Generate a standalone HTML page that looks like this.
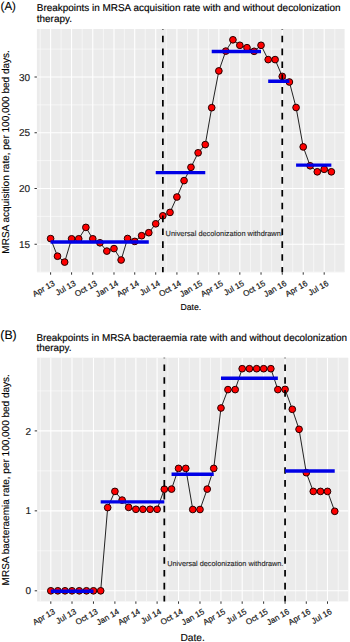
<!DOCTYPE html>
<html><head><meta charset="utf-8"><style>
html,body{margin:0;padding:0;background:#fff;width:350px;height:642px;overflow:hidden}
svg{display:block} text{text-rendering:geometricPrecision;font-family:"Liberation Sans",sans-serif}
.ann{fill:#222;stroke:#222;stroke-width:0.1}
.yt{fill:#1a1a1a;stroke:#1a1a1a;stroke-width:0.15}
.xt{fill:#1a1a1a;stroke:#1a1a1a;stroke-width:0.2}
.tag{fill:#000;stroke:#000;stroke-width:0.1}
.ti{fill:#000;stroke:#000;stroke-width:0.15}
.at{fill:#000;stroke:#000;stroke-width:0.12}
</style></head><body>
<svg width="350" height="642" viewBox="0 0 350 642">
<rect width="350" height="642" fill="#fff"/>
<clipPath id="ca"><rect x="36.9" y="29.0" width="307.70000000000005" height="243.3"/></clipPath>
<rect x="36.9" y="29.0" width="307.70000000000005" height="243.3" fill="#EBEBEB"/>
<g clip-path="url(#ca)">
<line x1="36.9" x2="344.6" y1="272.12" y2="272.12" stroke="#fff" stroke-width="0.55"/>
<line x1="36.9" x2="344.6" y1="216.38" y2="216.38" stroke="#fff" stroke-width="0.55"/>
<line x1="36.9" x2="344.6" y1="160.62" y2="160.62" stroke="#fff" stroke-width="0.55"/>
<line x1="36.9" x2="344.6" y1="104.88" y2="104.88" stroke="#fff" stroke-width="0.55"/>
<line x1="36.9" x2="344.6" y1="49.12" y2="49.12" stroke="#fff" stroke-width="0.55"/>
<line x1="40.23" x2="40.23" y1="29.0" y2="272.3" stroke="#fff" stroke-width="0.55"/>
<line x1="61.09" x2="61.09" y1="29.0" y2="272.3" stroke="#fff" stroke-width="0.55"/>
<line x1="82.18" x2="82.18" y1="29.0" y2="272.3" stroke="#fff" stroke-width="0.55"/>
<line x1="103.38" x2="103.38" y1="29.0" y2="272.3" stroke="#fff" stroke-width="0.55"/>
<line x1="124.36" x2="124.36" y1="29.0" y2="272.3" stroke="#fff" stroke-width="0.55"/>
<line x1="145.22" x2="145.22" y1="29.0" y2="272.3" stroke="#fff" stroke-width="0.55"/>
<line x1="166.31" x2="166.31" y1="29.0" y2="272.3" stroke="#fff" stroke-width="0.55"/>
<line x1="187.52" x2="187.52" y1="29.0" y2="272.3" stroke="#fff" stroke-width="0.55"/>
<line x1="208.49" x2="208.49" y1="29.0" y2="272.3" stroke="#fff" stroke-width="0.55"/>
<line x1="229.35" x2="229.35" y1="29.0" y2="272.3" stroke="#fff" stroke-width="0.55"/>
<line x1="250.44" x2="250.44" y1="29.0" y2="272.3" stroke="#fff" stroke-width="0.55"/>
<line x1="271.65" x2="271.65" y1="29.0" y2="272.3" stroke="#fff" stroke-width="0.55"/>
<line x1="292.74" x2="292.74" y1="29.0" y2="272.3" stroke="#fff" stroke-width="0.55"/>
<line x1="313.71" x2="313.71" y1="29.0" y2="272.3" stroke="#fff" stroke-width="0.55"/>
<line x1="334.80" x2="334.80" y1="29.0" y2="272.3" stroke="#fff" stroke-width="0.55"/>
<line x1="36.9" x2="344.6" y1="244.25" y2="244.25" stroke="#fff" stroke-width="1.1"/>
<line x1="36.9" x2="344.6" y1="188.50" y2="188.50" stroke="#fff" stroke-width="1.1"/>
<line x1="36.9" x2="344.6" y1="132.75" y2="132.75" stroke="#fff" stroke-width="1.1"/>
<line x1="36.9" x2="344.6" y1="77.00" y2="77.00" stroke="#fff" stroke-width="1.1"/>
<line x1="50.60" x2="50.60" y1="29.0" y2="272.3" stroke="#fff" stroke-width="1.1"/>
<line x1="71.58" x2="71.58" y1="29.0" y2="272.3" stroke="#fff" stroke-width="1.1"/>
<line x1="92.78" x2="92.78" y1="29.0" y2="272.3" stroke="#fff" stroke-width="1.1"/>
<line x1="113.99" x2="113.99" y1="29.0" y2="272.3" stroke="#fff" stroke-width="1.1"/>
<line x1="134.73" x2="134.73" y1="29.0" y2="272.3" stroke="#fff" stroke-width="1.1"/>
<line x1="155.71" x2="155.71" y1="29.0" y2="272.3" stroke="#fff" stroke-width="1.1"/>
<line x1="176.91" x2="176.91" y1="29.0" y2="272.3" stroke="#fff" stroke-width="1.1"/>
<line x1="198.12" x2="198.12" y1="29.0" y2="272.3" stroke="#fff" stroke-width="1.1"/>
<line x1="218.86" x2="218.86" y1="29.0" y2="272.3" stroke="#fff" stroke-width="1.1"/>
<line x1="239.84" x2="239.84" y1="29.0" y2="272.3" stroke="#fff" stroke-width="1.1"/>
<line x1="261.04" x2="261.04" y1="29.0" y2="272.3" stroke="#fff" stroke-width="1.1"/>
<line x1="282.25" x2="282.25" y1="29.0" y2="272.3" stroke="#fff" stroke-width="1.1"/>
<line x1="303.22" x2="303.22" y1="29.0" y2="272.3" stroke="#fff" stroke-width="1.1"/>
<line x1="324.20" x2="324.20" y1="29.0" y2="272.3" stroke="#fff" stroke-width="1.1"/>
<text x="165.6" y="236.0" class="ann" font-size="7.38">Universal decolonization withdrawn.</text>
<polyline points="50.60,238.60 57.51,256.20 64.66,262.10 71.58,238.80 78.72,238.80 85.87,227.40 92.78,238.80 99.93,242.80 106.84,251.10 113.99,248.60 121.13,260.00 127.59,238.50 134.73,241.40 141.65,235.70 148.79,232.70 155.71,223.80 162.85,215.80 170.00,212.40 176.91,197.00 184.06,180.60 190.97,167.30 198.12,152.80 205.26,144.60 211.72,107.70 218.86,70.90 225.78,51.10 232.92,39.80 239.84,45.30 246.98,47.70 254.13,51.30 261.04,45.30 268.19,59.60 275.10,59.60 282.25,76.40 289.39,82.00 296.08,107.50 303.22,146.90 310.14,165.80 317.29,171.80 324.20,169.30 331.35,171.80" fill="none" stroke="#222" stroke-width="1.0"/>
<circle cx="50.60" cy="238.60" r="3.35" fill="#f00" stroke="#200" stroke-width="1.0"/>
<circle cx="57.51" cy="256.20" r="3.35" fill="#f00" stroke="#200" stroke-width="1.0"/>
<circle cx="64.66" cy="262.10" r="3.35" fill="#f00" stroke="#200" stroke-width="1.0"/>
<circle cx="71.58" cy="238.80" r="3.35" fill="#f00" stroke="#200" stroke-width="1.0"/>
<circle cx="78.72" cy="238.80" r="3.35" fill="#f00" stroke="#200" stroke-width="1.0"/>
<circle cx="85.87" cy="227.40" r="3.35" fill="#f00" stroke="#200" stroke-width="1.0"/>
<circle cx="92.78" cy="238.80" r="3.35" fill="#f00" stroke="#200" stroke-width="1.0"/>
<circle cx="99.93" cy="242.80" r="3.35" fill="#f00" stroke="#200" stroke-width="1.0"/>
<circle cx="106.84" cy="251.10" r="3.35" fill="#f00" stroke="#200" stroke-width="1.0"/>
<circle cx="113.99" cy="248.60" r="3.35" fill="#f00" stroke="#200" stroke-width="1.0"/>
<circle cx="121.13" cy="260.00" r="3.35" fill="#f00" stroke="#200" stroke-width="1.0"/>
<circle cx="127.59" cy="238.50" r="3.35" fill="#f00" stroke="#200" stroke-width="1.0"/>
<circle cx="134.73" cy="241.40" r="3.35" fill="#f00" stroke="#200" stroke-width="1.0"/>
<circle cx="141.65" cy="235.70" r="3.35" fill="#f00" stroke="#200" stroke-width="1.0"/>
<circle cx="148.79" cy="232.70" r="3.35" fill="#f00" stroke="#200" stroke-width="1.0"/>
<circle cx="155.71" cy="223.80" r="3.35" fill="#f00" stroke="#200" stroke-width="1.0"/>
<circle cx="162.85" cy="215.80" r="3.35" fill="#f00" stroke="#200" stroke-width="1.0"/>
<circle cx="170.00" cy="212.40" r="3.35" fill="#f00" stroke="#200" stroke-width="1.0"/>
<circle cx="176.91" cy="197.00" r="3.35" fill="#f00" stroke="#200" stroke-width="1.0"/>
<circle cx="184.06" cy="180.60" r="3.35" fill="#f00" stroke="#200" stroke-width="1.0"/>
<circle cx="190.97" cy="167.30" r="3.35" fill="#f00" stroke="#200" stroke-width="1.0"/>
<circle cx="198.12" cy="152.80" r="3.35" fill="#f00" stroke="#200" stroke-width="1.0"/>
<circle cx="205.26" cy="144.60" r="3.35" fill="#f00" stroke="#200" stroke-width="1.0"/>
<circle cx="211.72" cy="107.70" r="3.35" fill="#f00" stroke="#200" stroke-width="1.0"/>
<circle cx="218.86" cy="70.90" r="3.35" fill="#f00" stroke="#200" stroke-width="1.0"/>
<circle cx="225.78" cy="51.10" r="3.35" fill="#f00" stroke="#200" stroke-width="1.0"/>
<circle cx="232.92" cy="39.80" r="3.35" fill="#f00" stroke="#200" stroke-width="1.0"/>
<circle cx="239.84" cy="45.30" r="3.35" fill="#f00" stroke="#200" stroke-width="1.0"/>
<circle cx="246.98" cy="47.70" r="3.35" fill="#f00" stroke="#200" stroke-width="1.0"/>
<circle cx="254.13" cy="51.30" r="3.35" fill="#f00" stroke="#200" stroke-width="1.0"/>
<circle cx="261.04" cy="45.30" r="3.35" fill="#f00" stroke="#200" stroke-width="1.0"/>
<circle cx="268.19" cy="59.60" r="3.35" fill="#f00" stroke="#200" stroke-width="1.0"/>
<circle cx="275.10" cy="59.60" r="3.35" fill="#f00" stroke="#200" stroke-width="1.0"/>
<circle cx="282.25" cy="76.40" r="3.35" fill="#f00" stroke="#200" stroke-width="1.0"/>
<circle cx="289.39" cy="82.00" r="3.35" fill="#f00" stroke="#200" stroke-width="1.0"/>
<circle cx="296.08" cy="107.50" r="3.35" fill="#f00" stroke="#200" stroke-width="1.0"/>
<circle cx="303.22" cy="146.90" r="3.35" fill="#f00" stroke="#200" stroke-width="1.0"/>
<circle cx="310.14" cy="165.80" r="3.35" fill="#f00" stroke="#200" stroke-width="1.0"/>
<circle cx="317.29" cy="171.80" r="3.35" fill="#f00" stroke="#200" stroke-width="1.0"/>
<circle cx="324.20" cy="169.30" r="3.35" fill="#f00" stroke="#200" stroke-width="1.0"/>
<circle cx="331.35" cy="171.80" r="3.35" fill="#f00" stroke="#200" stroke-width="1.0"/>
<line x1="162.85" x2="162.85" y1="273.6" y2="19.0" stroke="#000" stroke-width="1.75" stroke-dasharray="6.6 6.25"/>
<line x1="282.25" x2="282.25" y1="273.6" y2="19.0" stroke="#000" stroke-width="1.75" stroke-dasharray="6.6 6.25"/>
<line x1="50.60" x2="148.79" y1="242.0" y2="242.0" stroke="#0000E6" stroke-width="3.4"/>
<line x1="155.71" x2="205.26" y1="172.6" y2="172.6" stroke="#0000E6" stroke-width="3.4"/>
<line x1="211.72" x2="261.04" y1="51.5" y2="51.5" stroke="#0000E6" stroke-width="3.4"/>
<line x1="268.19" x2="289.39" y1="81.2" y2="81.2" stroke="#0000E6" stroke-width="3.4"/>
<line x1="296.08" x2="331.35" y1="165.1" y2="165.1" stroke="#0000E6" stroke-width="3.4"/>
</g>
<line x1="34.5" x2="36.9" y1="244.25" y2="244.25" stroke="#333" stroke-width="1"/>
<text x="30.2" y="247.85" text-anchor="end" class="yt" font-size="10">15</text>
<line x1="34.5" x2="36.9" y1="188.50" y2="188.50" stroke="#333" stroke-width="1"/>
<text x="30.2" y="192.10" text-anchor="end" class="yt" font-size="10">20</text>
<line x1="34.5" x2="36.9" y1="132.75" y2="132.75" stroke="#333" stroke-width="1"/>
<text x="30.2" y="136.35" text-anchor="end" class="yt" font-size="10">25</text>
<line x1="34.5" x2="36.9" y1="77.00" y2="77.00" stroke="#333" stroke-width="1"/>
<text x="30.2" y="80.60" text-anchor="end" class="yt" font-size="10">30</text>
<line x1="50.60" x2="50.60" y1="272.3" y2="274.7" stroke="#333" stroke-width="1"/>
<text transform="translate(55.50,284.90) rotate(-30)" text-anchor="end" class="xt" font-size="8.2">Apr 13</text>
<line x1="71.58" x2="71.58" y1="272.3" y2="274.7" stroke="#333" stroke-width="1"/>
<text transform="translate(76.48,284.90) rotate(-30)" text-anchor="end" class="xt" font-size="8.2">Jul 13</text>
<line x1="92.78" x2="92.78" y1="272.3" y2="274.7" stroke="#333" stroke-width="1"/>
<text transform="translate(97.68,284.90) rotate(-30)" text-anchor="end" class="xt" font-size="8.2">Oct 13</text>
<line x1="113.99" x2="113.99" y1="272.3" y2="274.7" stroke="#333" stroke-width="1"/>
<text transform="translate(118.89,284.90) rotate(-30)" text-anchor="end" class="xt" font-size="8.2">Jan 14</text>
<line x1="134.73" x2="134.73" y1="272.3" y2="274.7" stroke="#333" stroke-width="1"/>
<text transform="translate(139.63,284.90) rotate(-30)" text-anchor="end" class="xt" font-size="8.2">Apr 14</text>
<line x1="155.71" x2="155.71" y1="272.3" y2="274.7" stroke="#333" stroke-width="1"/>
<text transform="translate(160.61,284.90) rotate(-30)" text-anchor="end" class="xt" font-size="8.2">Jul 14</text>
<line x1="176.91" x2="176.91" y1="272.3" y2="274.7" stroke="#333" stroke-width="1"/>
<text transform="translate(181.81,284.90) rotate(-30)" text-anchor="end" class="xt" font-size="8.2">Oct 14</text>
<line x1="198.12" x2="198.12" y1="272.3" y2="274.7" stroke="#333" stroke-width="1"/>
<text transform="translate(203.02,284.90) rotate(-30)" text-anchor="end" class="xt" font-size="8.2">Jan 15</text>
<line x1="218.86" x2="218.86" y1="272.3" y2="274.7" stroke="#333" stroke-width="1"/>
<text transform="translate(223.76,284.90) rotate(-30)" text-anchor="end" class="xt" font-size="8.2">Apr 15</text>
<line x1="239.84" x2="239.84" y1="272.3" y2="274.7" stroke="#333" stroke-width="1"/>
<text transform="translate(244.74,284.90) rotate(-30)" text-anchor="end" class="xt" font-size="8.2">Jul 15</text>
<line x1="261.04" x2="261.04" y1="272.3" y2="274.7" stroke="#333" stroke-width="1"/>
<text transform="translate(265.94,284.90) rotate(-30)" text-anchor="end" class="xt" font-size="8.2">Oct 15</text>
<line x1="282.25" x2="282.25" y1="272.3" y2="274.7" stroke="#333" stroke-width="1"/>
<text transform="translate(287.15,284.90) rotate(-30)" text-anchor="end" class="xt" font-size="8.2">Jan 16</text>
<line x1="303.22" x2="303.22" y1="272.3" y2="274.7" stroke="#333" stroke-width="1"/>
<text transform="translate(308.12,284.90) rotate(-30)" text-anchor="end" class="xt" font-size="8.2">Apr 16</text>
<line x1="324.20" x2="324.20" y1="272.3" y2="274.7" stroke="#333" stroke-width="1"/>
<text transform="translate(329.10,284.90) rotate(-30)" text-anchor="end" class="xt" font-size="8.2">Jul 16</text>
<text x="0.6" y="9.6" class="tag" font-size="11.5">(A)</text>
<text x="36.8" y="10.7" class="ti" font-size="9.95">Breakpoints in MRSA acquisition rate with and without decolonization</text>
<text x="36.8" y="21.8" class="ti" font-size="9.95">therapy.</text>
<text transform="translate(8.9,151.9) rotate(-90)" text-anchor="middle" class="at" font-size="10">MRSA acquisition rate, per 100,000 bed days.</text>
<text x="180.5" y="310.0" class="at" font-size="8.7">Date.</text>
<clipPath id="cb"><rect x="37.1" y="357.7" width="311.2" height="243.7"/></clipPath>
<rect x="37.1" y="357.7" width="311.2" height="243.7" fill="#EBEBEB"/>
<g clip-path="url(#cb)">
<line x1="37.1" x2="348.3" y1="550.82" y2="550.82" stroke="#fff" stroke-width="0.55"/>
<line x1="37.1" x2="348.3" y1="470.87" y2="470.87" stroke="#fff" stroke-width="0.55"/>
<line x1="37.1" x2="348.3" y1="390.92" y2="390.92" stroke="#fff" stroke-width="0.55"/>
<line x1="40.31" x2="40.31" y1="357.7" y2="601.4" stroke="#fff" stroke-width="0.55"/>
<line x1="61.41" x2="61.41" y1="357.7" y2="601.4" stroke="#fff" stroke-width="0.55"/>
<line x1="82.74" x2="82.74" y1="357.7" y2="601.4" stroke="#fff" stroke-width="0.55"/>
<line x1="104.18" x2="104.18" y1="357.7" y2="601.4" stroke="#fff" stroke-width="0.55"/>
<line x1="125.39" x2="125.39" y1="357.7" y2="601.4" stroke="#fff" stroke-width="0.55"/>
<line x1="146.49" x2="146.49" y1="357.7" y2="601.4" stroke="#fff" stroke-width="0.55"/>
<line x1="167.82" x2="167.82" y1="357.7" y2="601.4" stroke="#fff" stroke-width="0.55"/>
<line x1="189.27" x2="189.27" y1="357.7" y2="601.4" stroke="#fff" stroke-width="0.55"/>
<line x1="210.48" x2="210.48" y1="357.7" y2="601.4" stroke="#fff" stroke-width="0.55"/>
<line x1="231.58" x2="231.58" y1="357.7" y2="601.4" stroke="#fff" stroke-width="0.55"/>
<line x1="252.91" x2="252.91" y1="357.7" y2="601.4" stroke="#fff" stroke-width="0.55"/>
<line x1="274.35" x2="274.35" y1="357.7" y2="601.4" stroke="#fff" stroke-width="0.55"/>
<line x1="295.68" x2="295.68" y1="357.7" y2="601.4" stroke="#fff" stroke-width="0.55"/>
<line x1="316.89" x2="316.89" y1="357.7" y2="601.4" stroke="#fff" stroke-width="0.55"/>
<line x1="338.22" x2="338.22" y1="357.7" y2="601.4" stroke="#fff" stroke-width="0.55"/>
<line x1="37.1" x2="348.3" y1="590.80" y2="590.80" stroke="#fff" stroke-width="1.1"/>
<line x1="37.1" x2="348.3" y1="510.85" y2="510.85" stroke="#fff" stroke-width="1.1"/>
<line x1="37.1" x2="348.3" y1="430.90" y2="430.90" stroke="#fff" stroke-width="1.1"/>
<line x1="50.80" x2="50.80" y1="357.7" y2="601.4" stroke="#fff" stroke-width="1.1"/>
<line x1="72.01" x2="72.01" y1="357.7" y2="601.4" stroke="#fff" stroke-width="1.1"/>
<line x1="93.46" x2="93.46" y1="357.7" y2="601.4" stroke="#fff" stroke-width="1.1"/>
<line x1="114.90" x2="114.90" y1="357.7" y2="601.4" stroke="#fff" stroke-width="1.1"/>
<line x1="135.88" x2="135.88" y1="357.7" y2="601.4" stroke="#fff" stroke-width="1.1"/>
<line x1="157.10" x2="157.10" y1="357.7" y2="601.4" stroke="#fff" stroke-width="1.1"/>
<line x1="178.54" x2="178.54" y1="357.7" y2="601.4" stroke="#fff" stroke-width="1.1"/>
<line x1="199.99" x2="199.99" y1="357.7" y2="601.4" stroke="#fff" stroke-width="1.1"/>
<line x1="220.97" x2="220.97" y1="357.7" y2="601.4" stroke="#fff" stroke-width="1.1"/>
<line x1="242.18" x2="242.18" y1="357.7" y2="601.4" stroke="#fff" stroke-width="1.1"/>
<line x1="263.63" x2="263.63" y1="357.7" y2="601.4" stroke="#fff" stroke-width="1.1"/>
<line x1="285.07" x2="285.07" y1="357.7" y2="601.4" stroke="#fff" stroke-width="1.1"/>
<line x1="306.29" x2="306.29" y1="357.7" y2="601.4" stroke="#fff" stroke-width="1.1"/>
<line x1="327.50" x2="327.50" y1="357.7" y2="601.4" stroke="#fff" stroke-width="1.1"/>
<text x="167.3" y="566.0" class="ann" font-size="7.3">Universal decolonization withdrawn.</text>
<polyline points="50.80,590.80 57.79,590.80 65.02,590.80 72.01,590.80 79.24,590.80 86.47,590.80 93.46,590.80 100.69,590.80 107.68,507.60 114.90,491.40 122.13,500.10 128.66,507.40 135.88,509.30 142.88,509.30 150.10,509.30 157.10,509.30 164.32,489.20 171.55,489.10 178.54,468.40 185.77,468.40 192.76,509.50 199.99,509.50 207.22,489.10 213.74,468.40 220.97,408.00 227.96,389.60 235.19,389.60 242.18,368.70 249.41,368.70 256.63,368.70 263.63,368.70 270.85,368.70 277.85,389.60 285.07,389.40 292.30,409.30 299.06,429.30 306.29,472.70 313.28,491.40 320.51,491.40 327.50,491.40 334.73,511.30" fill="none" stroke="#222" stroke-width="1.0"/>
<circle cx="50.80" cy="590.80" r="3.35" fill="#f00" stroke="#200" stroke-width="1.0"/>
<circle cx="57.79" cy="590.80" r="3.35" fill="#f00" stroke="#200" stroke-width="1.0"/>
<circle cx="65.02" cy="590.80" r="3.35" fill="#f00" stroke="#200" stroke-width="1.0"/>
<circle cx="72.01" cy="590.80" r="3.35" fill="#f00" stroke="#200" stroke-width="1.0"/>
<circle cx="79.24" cy="590.80" r="3.35" fill="#f00" stroke="#200" stroke-width="1.0"/>
<circle cx="86.47" cy="590.80" r="3.35" fill="#f00" stroke="#200" stroke-width="1.0"/>
<circle cx="93.46" cy="590.80" r="3.35" fill="#f00" stroke="#200" stroke-width="1.0"/>
<circle cx="100.69" cy="590.80" r="3.35" fill="#f00" stroke="#200" stroke-width="1.0"/>
<circle cx="107.68" cy="507.60" r="3.35" fill="#f00" stroke="#200" stroke-width="1.0"/>
<circle cx="114.90" cy="491.40" r="3.35" fill="#f00" stroke="#200" stroke-width="1.0"/>
<circle cx="122.13" cy="500.10" r="3.35" fill="#f00" stroke="#200" stroke-width="1.0"/>
<circle cx="128.66" cy="507.40" r="3.35" fill="#f00" stroke="#200" stroke-width="1.0"/>
<circle cx="135.88" cy="509.30" r="3.35" fill="#f00" stroke="#200" stroke-width="1.0"/>
<circle cx="142.88" cy="509.30" r="3.35" fill="#f00" stroke="#200" stroke-width="1.0"/>
<circle cx="150.10" cy="509.30" r="3.35" fill="#f00" stroke="#200" stroke-width="1.0"/>
<circle cx="157.10" cy="509.30" r="3.35" fill="#f00" stroke="#200" stroke-width="1.0"/>
<circle cx="164.32" cy="489.20" r="3.35" fill="#f00" stroke="#200" stroke-width="1.0"/>
<circle cx="171.55" cy="489.10" r="3.35" fill="#f00" stroke="#200" stroke-width="1.0"/>
<circle cx="178.54" cy="468.40" r="3.35" fill="#f00" stroke="#200" stroke-width="1.0"/>
<circle cx="185.77" cy="468.40" r="3.35" fill="#f00" stroke="#200" stroke-width="1.0"/>
<circle cx="192.76" cy="509.50" r="3.35" fill="#f00" stroke="#200" stroke-width="1.0"/>
<circle cx="199.99" cy="509.50" r="3.35" fill="#f00" stroke="#200" stroke-width="1.0"/>
<circle cx="207.22" cy="489.10" r="3.35" fill="#f00" stroke="#200" stroke-width="1.0"/>
<circle cx="213.74" cy="468.40" r="3.35" fill="#f00" stroke="#200" stroke-width="1.0"/>
<circle cx="220.97" cy="408.00" r="3.35" fill="#f00" stroke="#200" stroke-width="1.0"/>
<circle cx="227.96" cy="389.60" r="3.35" fill="#f00" stroke="#200" stroke-width="1.0"/>
<circle cx="235.19" cy="389.60" r="3.35" fill="#f00" stroke="#200" stroke-width="1.0"/>
<circle cx="242.18" cy="368.70" r="3.35" fill="#f00" stroke="#200" stroke-width="1.0"/>
<circle cx="249.41" cy="368.70" r="3.35" fill="#f00" stroke="#200" stroke-width="1.0"/>
<circle cx="256.63" cy="368.70" r="3.35" fill="#f00" stroke="#200" stroke-width="1.0"/>
<circle cx="263.63" cy="368.70" r="3.35" fill="#f00" stroke="#200" stroke-width="1.0"/>
<circle cx="270.85" cy="368.70" r="3.35" fill="#f00" stroke="#200" stroke-width="1.0"/>
<circle cx="277.85" cy="389.60" r="3.35" fill="#f00" stroke="#200" stroke-width="1.0"/>
<circle cx="285.07" cy="389.40" r="3.35" fill="#f00" stroke="#200" stroke-width="1.0"/>
<circle cx="292.30" cy="409.30" r="3.35" fill="#f00" stroke="#200" stroke-width="1.0"/>
<circle cx="299.06" cy="429.30" r="3.35" fill="#f00" stroke="#200" stroke-width="1.0"/>
<circle cx="306.29" cy="472.70" r="3.35" fill="#f00" stroke="#200" stroke-width="1.0"/>
<circle cx="313.28" cy="491.40" r="3.35" fill="#f00" stroke="#200" stroke-width="1.0"/>
<circle cx="320.51" cy="491.40" r="3.35" fill="#f00" stroke="#200" stroke-width="1.0"/>
<circle cx="327.50" cy="491.40" r="3.35" fill="#f00" stroke="#200" stroke-width="1.0"/>
<circle cx="334.73" cy="511.30" r="3.35" fill="#f00" stroke="#200" stroke-width="1.0"/>
<line x1="164.32" x2="164.32" y1="602.3" y2="347.7" stroke="#000" stroke-width="1.75" stroke-dasharray="6.6 6.25"/>
<line x1="285.07" x2="285.07" y1="602.3" y2="347.7" stroke="#000" stroke-width="1.75" stroke-dasharray="6.6 6.25"/>
<line x1="50.80" x2="93.46" y1="591.3" y2="591.3" stroke="#0000E6" stroke-width="3.4"/>
<line x1="100.69" x2="164.32" y1="501.9" y2="501.9" stroke="#0000E6" stroke-width="3.4"/>
<line x1="171.55" x2="213.74" y1="474.2" y2="474.2" stroke="#0000E6" stroke-width="3.4"/>
<line x1="220.97" x2="277.85" y1="378.3" y2="378.3" stroke="#0000E6" stroke-width="3.4"/>
<line x1="285.07" x2="334.73" y1="471.0" y2="471.0" stroke="#0000E6" stroke-width="3.4"/>
</g>
<line x1="34.7" x2="37.1" y1="590.80" y2="590.80" stroke="#333" stroke-width="1"/>
<text x="31.0" y="594.40" text-anchor="end" class="yt" font-size="10">0</text>
<line x1="34.7" x2="37.1" y1="510.85" y2="510.85" stroke="#333" stroke-width="1"/>
<text x="31.0" y="514.45" text-anchor="end" class="yt" font-size="10">1</text>
<line x1="34.7" x2="37.1" y1="430.90" y2="430.90" stroke="#333" stroke-width="1"/>
<text x="31.0" y="434.50" text-anchor="end" class="yt" font-size="10">2</text>
<line x1="50.80" x2="50.80" y1="601.4" y2="603.8" stroke="#333" stroke-width="1"/>
<text transform="translate(55.70,613.20) rotate(-30)" text-anchor="end" class="xt" font-size="8.2">Apr 13</text>
<line x1="72.01" x2="72.01" y1="601.4" y2="603.8" stroke="#333" stroke-width="1"/>
<text transform="translate(76.91,613.20) rotate(-30)" text-anchor="end" class="xt" font-size="8.2">Jul 13</text>
<line x1="93.46" x2="93.46" y1="601.4" y2="603.8" stroke="#333" stroke-width="1"/>
<text transform="translate(98.36,613.20) rotate(-30)" text-anchor="end" class="xt" font-size="8.2">Oct 13</text>
<line x1="114.90" x2="114.90" y1="601.4" y2="603.8" stroke="#333" stroke-width="1"/>
<text transform="translate(119.80,613.20) rotate(-30)" text-anchor="end" class="xt" font-size="8.2">Jan 14</text>
<line x1="135.88" x2="135.88" y1="601.4" y2="603.8" stroke="#333" stroke-width="1"/>
<text transform="translate(140.78,613.20) rotate(-30)" text-anchor="end" class="xt" font-size="8.2">Apr 14</text>
<line x1="157.10" x2="157.10" y1="601.4" y2="603.8" stroke="#333" stroke-width="1"/>
<text transform="translate(162.00,613.20) rotate(-30)" text-anchor="end" class="xt" font-size="8.2">Jul 14</text>
<line x1="178.54" x2="178.54" y1="601.4" y2="603.8" stroke="#333" stroke-width="1"/>
<text transform="translate(183.44,613.20) rotate(-30)" text-anchor="end" class="xt" font-size="8.2">Oct 14</text>
<line x1="199.99" x2="199.99" y1="601.4" y2="603.8" stroke="#333" stroke-width="1"/>
<text transform="translate(204.89,613.20) rotate(-30)" text-anchor="end" class="xt" font-size="8.2">Jan 15</text>
<line x1="220.97" x2="220.97" y1="601.4" y2="603.8" stroke="#333" stroke-width="1"/>
<text transform="translate(225.87,613.20) rotate(-30)" text-anchor="end" class="xt" font-size="8.2">Apr 15</text>
<line x1="242.18" x2="242.18" y1="601.4" y2="603.8" stroke="#333" stroke-width="1"/>
<text transform="translate(247.08,613.20) rotate(-30)" text-anchor="end" class="xt" font-size="8.2">Jul 15</text>
<line x1="263.63" x2="263.63" y1="601.4" y2="603.8" stroke="#333" stroke-width="1"/>
<text transform="translate(268.53,613.20) rotate(-30)" text-anchor="end" class="xt" font-size="8.2">Oct 15</text>
<line x1="285.07" x2="285.07" y1="601.4" y2="603.8" stroke="#333" stroke-width="1"/>
<text transform="translate(289.97,613.20) rotate(-30)" text-anchor="end" class="xt" font-size="8.2">Jan 16</text>
<line x1="306.29" x2="306.29" y1="601.4" y2="603.8" stroke="#333" stroke-width="1"/>
<text transform="translate(311.19,613.20) rotate(-30)" text-anchor="end" class="xt" font-size="8.2">Apr 16</text>
<line x1="327.50" x2="327.50" y1="601.4" y2="603.8" stroke="#333" stroke-width="1"/>
<text transform="translate(332.40,613.20) rotate(-30)" text-anchor="end" class="xt" font-size="8.2">Jul 16</text>
<text x="0.3" y="338.5" class="tag" font-size="12.3">(B)</text>
<text x="36.4" y="340.7" class="ti" font-size="9.91">Breakpoints in MRSA bacteraemia rate with and without decolonization</text>
<text x="36.4" y="351.4" class="ti" font-size="9.91">therapy.</text>
<text transform="translate(8.9,479.75) rotate(-90)" text-anchor="middle" class="at" font-size="10">MRSA bacteraemia rate, per 100,000 bed days.</text>
<text x="180.5" y="640.6" class="at" font-size="10.2">Date.</text>
</svg>
</body></html>
